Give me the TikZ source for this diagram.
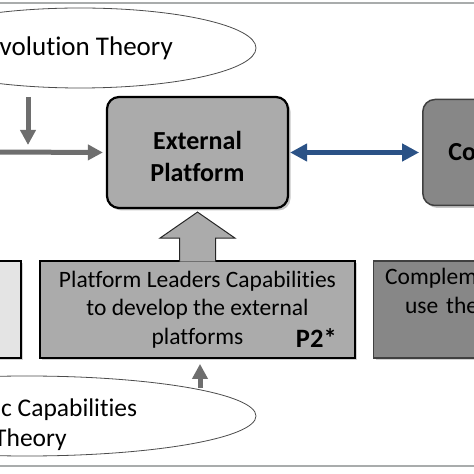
\documentclass[tikz,border=0pt]{standalone}
\usepackage{fontspec}
\setmainfont{Carlito}[Ligatures=NoCommon]
\usetikzlibrary{arrows.meta,positioning,shapes.geometric,shadows}
\usepackage{xcolor}
\definecolor{boxgrey}{HTML}{ABABAB}
\definecolor{darkgrey}{HTML}{878787}
\definecolor{lightgrey}{HTML}{E4E4E4}
\definecolor{arrowgrey}{HTML}{6E6E6E}
\definecolor{navy}{HTML}{2B5286}
\definecolor{frameline}{HTML}{A9ACAC}
\tikzset{
  base/.style={align=center,inner sep=0pt,font=\fontsize{23.5}{28.5}\selectfont},
  theory/.style={ellipse,draw=black!70,line width=0.8pt,fill=white,inner sep=0pt,align=center,font=\fontsize{27}{30}\selectfont},
  theorytext/.style={inner sep=0pt,align=left,font=\fontsize{25.5}{30}\selectfont},
  platform/.style={base,rounded corners=12pt,draw=black,line width=2.2pt,fill=boxgrey,font=\bfseries\fontsize{26}{31.5}\selectfont,drop shadow={shadow xshift=2.5pt,shadow yshift=-2.5pt,opacity=0.45}},
  partner/.style={platform,fill=darkgrey,draw=black!75,line width=1.5pt},
  capability/.style={base,draw=black,line width=1.8pt,fill=boxgrey,drop shadow={shadow xshift=2pt,shadow yshift=-2pt,opacity=0.35}},
  partnercap/.style={capability,fill=darkgrey,draw=black!75,line width=1.5pt},
  sidecap/.style={capability,fill=lightgrey},
  tag/.style={inner sep=0pt,font=\bfseries\fontsize{26.5}{30}\selectfont},
  uparrow/.style={fill=boxgrey,draw=black!85,line width=1pt,line join=miter},
  feedback/.style={-{Triangle[length=15pt,width=15pt]},line width=5pt,draw=arrowgrey},
  link/.style={{Triangle[length=17pt,width=17pt]}-{Triangle[length=17pt,width=17pt]},line width=4.4pt,draw=navy},
  frame/.style={draw=frameline,line width=2pt}
}
\begin{document}
\begin{tikzpicture}[x=1pt,y=1pt]
\useasboundingbox (0,0) rectangle (474,474);
\clip (0,0) rectangle (474,474);
\draw[frame] (-10,8) rectangle (476,471);

\node[theory,minimum width=352pt,minimum height=80pt] (evo) at (80,426) {Evolution Theory};
\node[platform,minimum width=181pt,minimum height=111pt] (ext) at (197.5,321.5) {\raisebox{-4pt}[\height][\depth]{External}\\\raisebox{-4pt}[\height][\depth]{Platform}};
\node[partner,minimum width=181pt,minimum height=106pt,right=133pt of ext,text width=130pt,align=left] (comp) {Co};
\node[capability,minimum width=315pt,minimum height=97pt,below=51pt of ext] (lead) {Platform Leaders Capabilities\\to develop the external\\platforms};
\node[tag,anchor=base east] (p2) at ([xshift=-19pt,yshift=11pt]lead.south east) {P2*};
\node[partnercap,minimum width=315pt,minimum height=97pt,right=17pt of lead,text width=292pt,align=left] (compl) {Complem\\\hspace*{20pt}use the\\\strut};
\node[sidecap,minimum width=122pt,minimum height=97pt,left=17pt of lead] (side) {};
\node[theory,minimum width=458pt,minimum height=80pt] (dyn) at (27,58) {};
\node[theorytext,anchor=west] (dyntext) at (1,49.5) {c Capabilities\\\hspace*{-7pt}Theory};

\draw[uparrow,shift={(lead.north)}] (-18,-1.5) -- (-18,22) -- (-37.5,22) -- (0,48) -- (37.5,22) -- (18,22) -- (18,-1.5);

\coordinate (evodrop) at (28,377);
\coordinate (feed) at (-5,322);
\coordinate (dynout) at (200,86);
\draw[feedback,shorten >=7.5pt] (evodrop) -- (evodrop |- ext.west);
\draw[feedback,shorten >=3pt] (feed) -- (ext.west);
\draw[link,shorten <=1pt,shorten >=3pt] (ext.east) -- (ext.east -| comp.west);
\draw[feedback,shorten >=5pt] (dynout) -- (dynout |- lead.south);
\end{tikzpicture}
\end{document}
